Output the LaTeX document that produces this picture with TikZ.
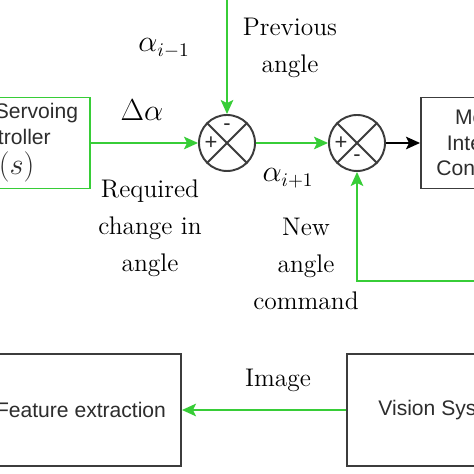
\documentclass[tikz,border=0pt]{standalone}
\usepackage{fontspec}
\newfontfamily\boxfont{Liberation Sans}
\usepackage{tikz}
\usetikzlibrary{arrows.meta, positioning}
\definecolor{sigGreen}{RGB}{55,205,55}
\definecolor{edgeGray}{RGB}{60,60,60}
\definecolor{textGray}{RGB}{45,45,45}

\begin{document}
\begin{tikzpicture}[
    % Blocks
    block/.style={rectangle, draw=edgeGray, line width=1.1pt, minimum height=1.82cm, align=center, text=textGray, font=\boxfont\fontsize{12}{14.5}\selectfont},
    greenblock/.style={block, draw=sigGreen},
    lowblock/.style={block, minimum height=2.24cm},
    % Summing junctions
    junction/.style={circle, draw=edgeGray, line width=1.1pt, minimum size=1.12cm, inner sep=0pt},
    sign/.style={inner sep=0pt, text=textGray, font=\boxfont\fontsize{12.5}{12.5}\selectfont},
    % Labels
    annot/.style={align=center, font=\fontsize{14.5}{21}\selectfont},
    mathannot/.style={annot, font=\fontsize{16}{21}\selectfont},
    % Connectors
    flow/.style={draw=sigGreen, line width=1.1pt, -{Stealth[length=2.8mm, width=2.5mm, inset=0.6mm]}},
    sig/.style={draw=black, line width=1.1pt, -{Stealth[length=2.8mm, width=2.5mm, inset=0.6mm]}}
]
    % Frame
    \fill[white] (-4.74,-4.74) rectangle (4.74,4.74);
    \useasboundingbox (-4.74,-4.74) rectangle (4.74,4.74);
    \clip (-4.74,-4.74) rectangle (4.74,4.74);

    % Upper loop
    \node[greenblock, minimum width=3.4cm] (ctrl) at (-4.64, 1.88) {Visual Servoing\\Controller\\[3pt]{\fontsize{17}{17}\selectfont$C(s)$}};
    \node[junction] (sum1) at (-0.2, 1.88) {};
    \node[junction] (sum2) at (2.4, 1.88) {};
    \node[block, minimum width=2.44cm] (motor) at (4.9, 1.88) {Motor\\Internal\\Controller};

    % Crosses and signs
    \foreach \s in {sum1, sum2} {
        \draw[edgeGray, line width=1.1pt] (\s.north west) -- (\s.south east);
        \draw[edgeGray, line width=1.1pt] (\s.south west) -- (\s.north east);
    }
    \node[sign] (plus1) at ([xshift=-0.32cm]sum1.center) {+};
    \node[sign] (minus1) at ([yshift=0.32cm]sum1.center) {-};
    \node[sign] (plus2) at ([xshift=-0.32cm]sum2.center) {+};
    \node[sign] (minus2) at ([yshift=-0.3cm]sum2.center) {-};

    % Lower row
    \node[lowblock, minimum width=4cm] (feature) at (-3.12, -3.46) {Feature extraction};
    \node[lowblock, minimum width=3.92cm] (vision) at (4.16, -3.46) {Vision System};

    % Free ends
    \coordinate (prevIn) at (-0.2, 5);
    \coordinate (fbIn) at (5, -0.88);

    % Connectors
    \draw[flow] (ctrl.east) -- (sum1.west);
    \draw[flow] (prevIn) -- (sum1.north);
    \draw[flow] (sum1.east) -- (sum2.west);
    \draw[sig] (sum2.east) -- (motor.west);
    \draw[flow] (fbIn) -| (sum2.south);
    \draw[flow] (vision.west) -- (feature.east);

    % Labels
    \node[mathannot] (aprev) at (-1.46, 3.78) {$\alpha_{i-1}$};
    \node[mathannot] (dalpha) at (-1.9, 2.54) {$\Delta\alpha$};
    \node[annot] (prevlbl) at (1.06, 3.78) {Previous\\angle};
    \node[annot] (reqlbl) at (-1.74, 0.18) {Required\\change in\\angle};
    \node[mathannot] (anext) at (1.02, 1.18) {$\alpha_{i+1}$};
    \node[annot] (newlbl) at (1.38, -0.54) {New\\angle\\command};
    \node[annot] (imglbl) at (0.82, -2.86) {Image};
\end{tikzpicture}
\end{document}
